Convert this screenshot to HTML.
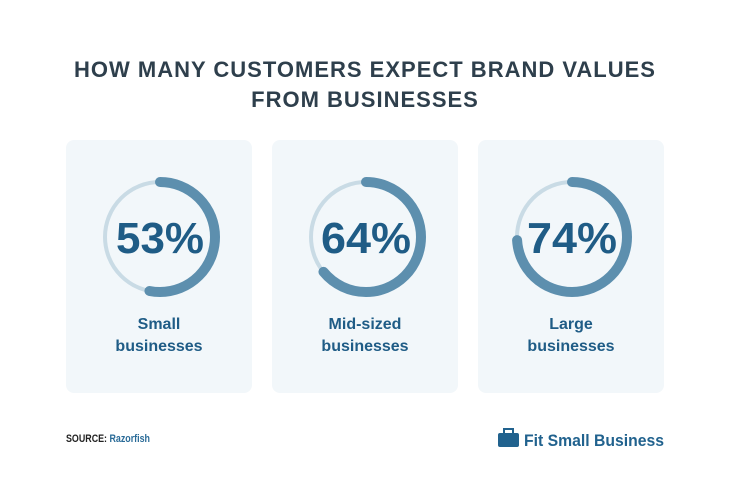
<!DOCTYPE html>
<html><head><style>
body{margin:0;width:730px;height:486px;background:#fff;font-family:"Liberation Sans",sans-serif;position:relative;overflow:hidden}
.t{position:absolute;left:0;width:730px;text-align:center;color:#2e3f4c;font-weight:bold;font-size:22px;letter-spacing:1px;line-height:30px;top:55px}
.card{position:absolute;top:140px;width:186px;height:253px;background:#f2f7fa;border-radius:8px}
.lab{position:absolute;top:314px;width:186px;text-align:center;color:#1f5c86;font-weight:bold;font-size:16px;line-height:22px}
svg{position:absolute;left:0;top:0}
</style></head><body>
<div class="t">HOW MANY CUSTOMERS EXPECT BRAND VALUES<br>FROM BUSINESSES</div>
<div class="card" style="left:66px"></div>
<div class="card" style="left:272px"></div>
<div class="card" style="left:478px"></div>
<svg width="730" height="486">
<g fill="none" stroke-width="4" stroke="#c9dbe5">
<circle cx="160" cy="237" r="55"/><circle cx="366" cy="237" r="55"/><circle cx="572" cy="237" r="55"/>
</g>
<g fill="none" stroke-width="10" stroke="#5d8fae" stroke-linecap="round">
<circle cx="160" cy="237" r="55" stroke-dasharray="183.2 400" transform="rotate(-90 160 237)"/>
<circle cx="366" cy="237" r="55" stroke-dasharray="221.2 400" transform="rotate(-90 366 237)"/>
<circle cx="572" cy="237" r="55" stroke-dasharray="255.7 400" transform="rotate(-90 572 237)"/>
</g>
<g font-family="Liberation Sans, sans-serif" font-weight="bold" font-size="44" fill="#1f5c86" text-anchor="middle">
<text x="160" y="253" textLength="88" lengthAdjust="spacingAndGlyphs">53%</text>
<text x="366" y="253" textLength="90" lengthAdjust="spacingAndGlyphs">64%</text>
<text x="572" y="253" textLength="90" lengthAdjust="spacingAndGlyphs">74%</text>
</g>
<text x="66" y="442" font-size="11" font-weight="bold" fill="#222" textLength="84" lengthAdjust="spacingAndGlyphs">SOURCE: <tspan fill="#2a6b98">Razorfish</tspan></text>
<g fill="#21628e"><rect x="498" y="433" width="21" height="14" rx="2"/><rect x="504" y="429" width="9" height="5" fill="none" stroke="#21628e" stroke-width="2"/></g>
<text x="524" y="446" font-size="17" font-weight="bold" fill="#21628e" textLength="140" lengthAdjust="spacingAndGlyphs">Fit Small Business</text>
</svg>
<div class="lab" style="left:66px">Small<br>businesses</div>
<div class="lab" style="left:272px">Mid-sized<br>businesses</div>
<div class="lab" style="left:478px">Large<br>businesses</div>
</body></html>
